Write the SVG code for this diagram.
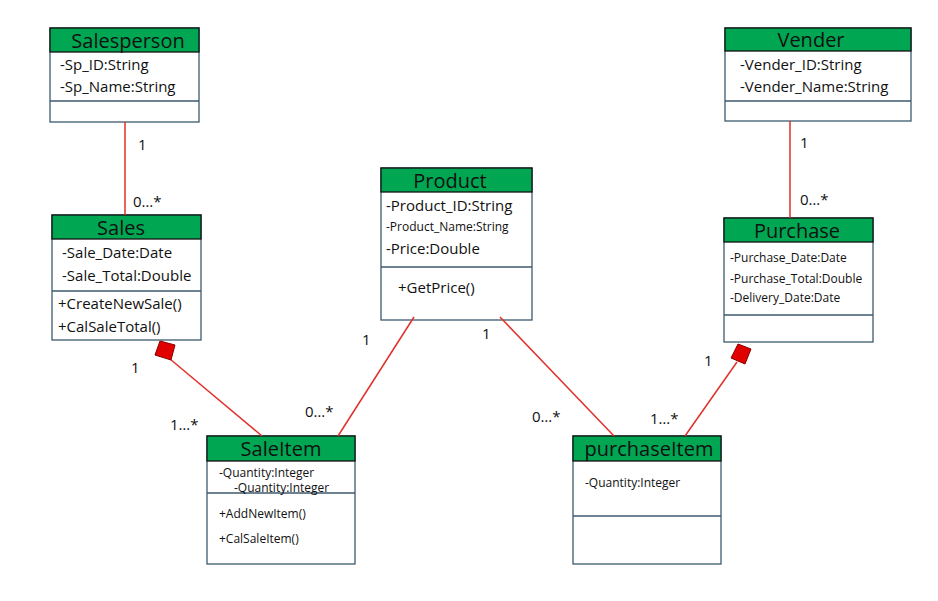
<svg xmlns="http://www.w3.org/2000/svg" width="938" height="601" viewBox="0 0 938 601">
<style>
.box{fill:#fff;stroke:#3c5a6e;stroke-width:1.3}
.hd{fill:#00a651;stroke:#111;stroke-width:1.3}
.sep{stroke:#3c5a6e;stroke-width:1.3}
.t{font-family:"Open Sans","Liberation Sans",sans-serif;font-size:20px;fill:#111;text-anchor:middle}
.a{font-family:"Open Sans","Liberation Sans",sans-serif;font-size:15px;fill:#111}
.s{font-family:"Open Sans","Liberation Sans",sans-serif;font-size:12px;fill:#111}
.l{font-family:"Open Sans","Liberation Sans",sans-serif;font-size:15px;fill:#111}
.c{stroke:#e0302a;stroke-width:1.5;fill:none}
.d{fill:#e00000;stroke:#800;stroke-width:1}
</style>
<rect width="938" height="601" fill="#fff"/>
<g id="Salesperson">
<rect class="box" x="50" y="28" width="149" height="94"/><rect class="hd" x="50" y="28" width="149" height="24"/>
<line class="sep" x1="50" y1="101" x2="199" y2="101"/>
<text class="t" x="128" y="48">Salesperson</text>
<text class="a" x="60" y="70">-Sp_ID:String</text><text class="a" x="60" y="92">-Sp_Name:String</text>
</g>
<g id="Vender">
<rect class="box" x="725" y="28" width="186" height="93"/><rect class="hd" x="725" y="28" width="186" height="23"/>
<line class="sep" x1="725" y1="101" x2="911" y2="101"/>
<text class="t" x="811" y="47">Vender</text>
<text class="a" x="740" y="70">-Vender_ID:String</text><text class="a" x="740" y="92">-Vender_Name:String</text>
</g>
<g id="Sales">
<rect class="box" x="52" y="215" width="149" height="125"/><rect class="hd" x="52" y="215" width="149" height="24"/>
<line class="sep" x1="52" y1="291" x2="201" y2="291"/>
<text class="t" x="121" y="235">Sales</text>
<text class="a" x="62" y="258">-Sale_Date:Date</text><text class="a" x="62" y="281">-Sale_Total:Double</text>
<text class="a" x="58" y="309">+CreateNewSale()</text><text class="a" x="58" y="332">+CalSaleTotal()</text>
</g>
<g id="Product">
<rect class="box" x="381" y="168" width="151" height="152"/><rect class="hd" x="381" y="168" width="151" height="24"/>
<line class="sep" x1="381" y1="267" x2="532" y2="267"/>
<text class="t" x="450" y="188">Product</text>
<text class="a" x="386" y="211">-Product_ID:String</text><text class="s" x="386" y="231">-Product_Name:String</text>
<text class="a" x="386" y="254">-Price:Double</text>
<text class="a" x="398" y="293">+GetPrice()</text>
</g>
<g id="Purchase">
<rect class="box" x="724" y="218" width="149" height="124"/><rect class="hd" x="724" y="218" width="149" height="24"/>
<line class="sep" x1="724" y1="315" x2="873" y2="315"/>
<text class="t" x="797" y="238">Purchase</text>
<text class="s" x="730" y="262">-Purchase_Date:Date</text><text class="s" x="730" y="283">-Purchase_Total:Double</text>
<text class="s" x="730" y="302">-Delivery_Date:Date</text>
</g>
<g id="SaleItem">
<rect class="box" x="207" y="436" width="148" height="128"/><rect class="hd" x="207" y="436" width="148" height="25"/>
<line class="sep" x1="207" y1="493" x2="355" y2="493"/>
<text class="t" x="281" y="456">SaleItem</text>
<text class="s" x="219" y="477">-Quantity:Integer</text><text class="s" x="234" y="492">-Quantity:Integer</text>
<text class="s" x="219" y="518">+AddNewItem()</text><text class="s" x="219" y="543">+CalSaleItem()</text>
</g>
<g id="purchaseItem">
<rect class="box" x="573" y="436" width="148" height="128"/><rect class="hd" x="573" y="436" width="148" height="25"/>
<line class="sep" x1="573" y1="516" x2="721" y2="516"/>
<text class="t" x="649" y="456">purchaseItem</text>
<text class="s" x="585" y="487">-Quantity:Integer</text>
</g>
<g id="connectors">
<line class="c" x1="125" y1="122" x2="125" y2="215"/>
<line class="c" x1="790" y1="121" x2="790" y2="218"/>
<line class="c" x1="170" y1="359" x2="262" y2="436"/>
<polygon class="d" points="160,341 175,345 171,360 155,355"/>
<line class="c" x1="414" y1="317" x2="338" y2="436"/>
<line class="c" x1="500" y1="317" x2="614" y2="436"/>
<line class="c" x1="737" y1="362" x2="685" y2="436"/>
<polygon class="d" points="738,344 751,349 745,364 731,358"/>
<text class="l" x="138" y="150">1</text><text class="l" x="133" y="207">0…*</text>
<text class="l" x="800" y="148">1</text><text class="l" x="800" y="205">0…*</text>
<text class="l" x="131" y="373">1</text><text class="l" x="170" y="430">1…*</text>
<text class="l" x="362" y="345">1</text><text class="l" x="305" y="417">0…*</text>
<text class="l" x="482" y="339">1</text><text class="l" x="532" y="422">0…*</text>
<text class="l" x="704" y="366">1</text><text class="l" x="650" y="424">1…*</text>
</g>
</svg>
